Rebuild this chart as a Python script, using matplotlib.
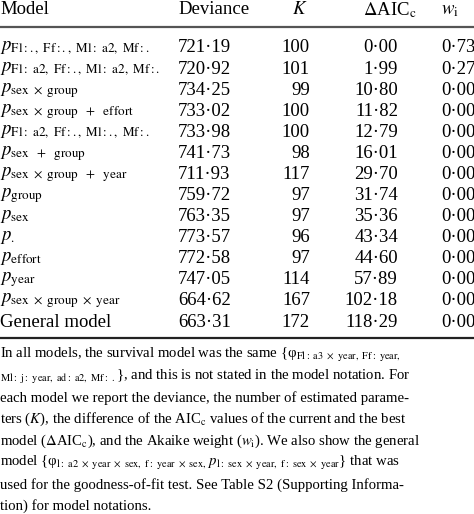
import matplotlib
matplotlib.use("Agg")
import matplotlib.pyplot as plt
from matplotlib.lines import Line2D

plt.rcParams["font.family"] = ["Liberation Serif", "DejaVu Serif"]
plt.rcParams["mathtext.fontset"] = "stix"

models = [
    r"$p_{\mathrm{Fl:.,\ Ff:.,\ Ml:\ a2,\ Mf:.}}$",
    r"$p_{\mathrm{Fl:\ a2,\ Ff:.,\ Ml:\ a2,\ Mf:.}}$",
    r"$p_{\mathrm{sex\ \times\ group}}$",
    r"$p_{\mathrm{sex\ \times\ group\ \ +\ \ effort}}$",
    r"$p_{\mathrm{Fl:\ a2,\ Ff:.,\ Ml:.,\ Mf:.}}$",
    r"$p_{\mathrm{sex\ \ +\ \ group}}$",
    r"$p_{\mathrm{sex\ \times\ group\ \ +\ \ year}}$",
    r"$p_{\mathrm{group}}$",
    r"$p_{\mathrm{sex}}$",
    r"$p_{.}$",
    r"$p_{\mathrm{effort}}$",
    r"$p_{\mathrm{year}}$",
    r"$p_{\mathrm{sex\ \times\ group\ \times\ year}}$",
    "General model",
]
deviance = ["721·19", "720·92", "734·25", "733·02", "733·98", "741·73", "711·93",
            "759·72", "763·35", "773·57", "772·58", "747·05", "664·62", "663·31"]
k_params = [100, 101, 99, 100, 100, 98, 117, 97, 97, 96, 97, 114, 167, 172]
delta_aicc = ["0·00", "1·99", "10·80", "11·82", "12·79", "16·01", "29·70",
              "31·74", "35·36", "43·34", "44·60", "57·89", "102·18", "118·29"]
weights = ["0·73", "0·27"] + ["0·00"] * 12

footnote = [
    r"In all models, the survival model was the same {φ$_{\mathrm{Fl:\ a3\ \times\ year,\ Ff:\ year,}}$",
    r"${}_{\mathrm{Ml:\ j:\ year,\ ad:\ a2,\ Mf:\ .}}$}, and this is not stated in the model notation. For",
    "each model we report the deviance, the number of estimated parame-",
    r"ters ($K$), the difference of the AIC$_\mathrm{c}$ values of the current and the best",
    r"model ($\Delta$AIC$_\mathrm{c}$), and the Akaike weight ($w_\mathrm{i}$). We also show the general",
    r"model {φ$_{\mathrm{l:\ a2\ \times\ year\ \times\ sex,\ f:\ year\ \times\ sex,}}\,p_{\mathrm{l:\ sex\ \times\ year,\ f:\ sex\ \times\ year}}$} that was",
    "used for the goodness-of-fit test. See Table S2 (Supporting Informa-",
    "tion) for model notations.",
]
# target widths in pixels (justified lines fill the width; some end early)
foot_widths = [470, 470, 470, 470, 472, 398, 470, None]

W, H = 474, 514
fig = plt.figure(figsize=(W / 100, H / 100), dpi=100)
fs = 13.5


def put(x, y, s, ha="left", size=fs):
    return fig.text(x / W, 1 - y / H, s, ha=ha, va="center", fontsize=size)


put(0, 10, "Model")
put(178, 10, "Deviance")
put(300, 10, r"$K$", ha="center")
put(363, 10, r"$\Delta$AIC$_\mathrm{c}$")
put(441, 10, r"$w_\mathrm{i}$")

fig.add_artist(Line2D([0, 1], [1 - 27 / H] * 2, color="#555555", lw=1.6))

for i, name in enumerate(models):
    y = 48 + i * 21.08
    put(0, y, name)
    put(178, y, deviance[i])
    put(310, y, str(k_params[i]), ha="right")
    put(398, y, delta_aicc[i], ha="right")
    put(441, y, weights[i])

fig.add_artist(Line2D([0, 1], [1 - 338 / H] * 2, color="#222222", lw=1.6))

renderer = fig.canvas.get_renderer()
base = 13.5
texts = []
for j, line in enumerate(footnote):
    t = put(0, 355 + j * 21.6, line, size=base)
    texts.append(t)
sizes = []
for t, target in zip(texts, foot_widths):
    if target is None:
        continue
    w = t.get_window_extent(renderer).width
    sizes.append(base * target / w)
common = min(sizes)
for t in texts:
    t.set_fontsize(common)

fig.savefig("out.png", dpi=100)
